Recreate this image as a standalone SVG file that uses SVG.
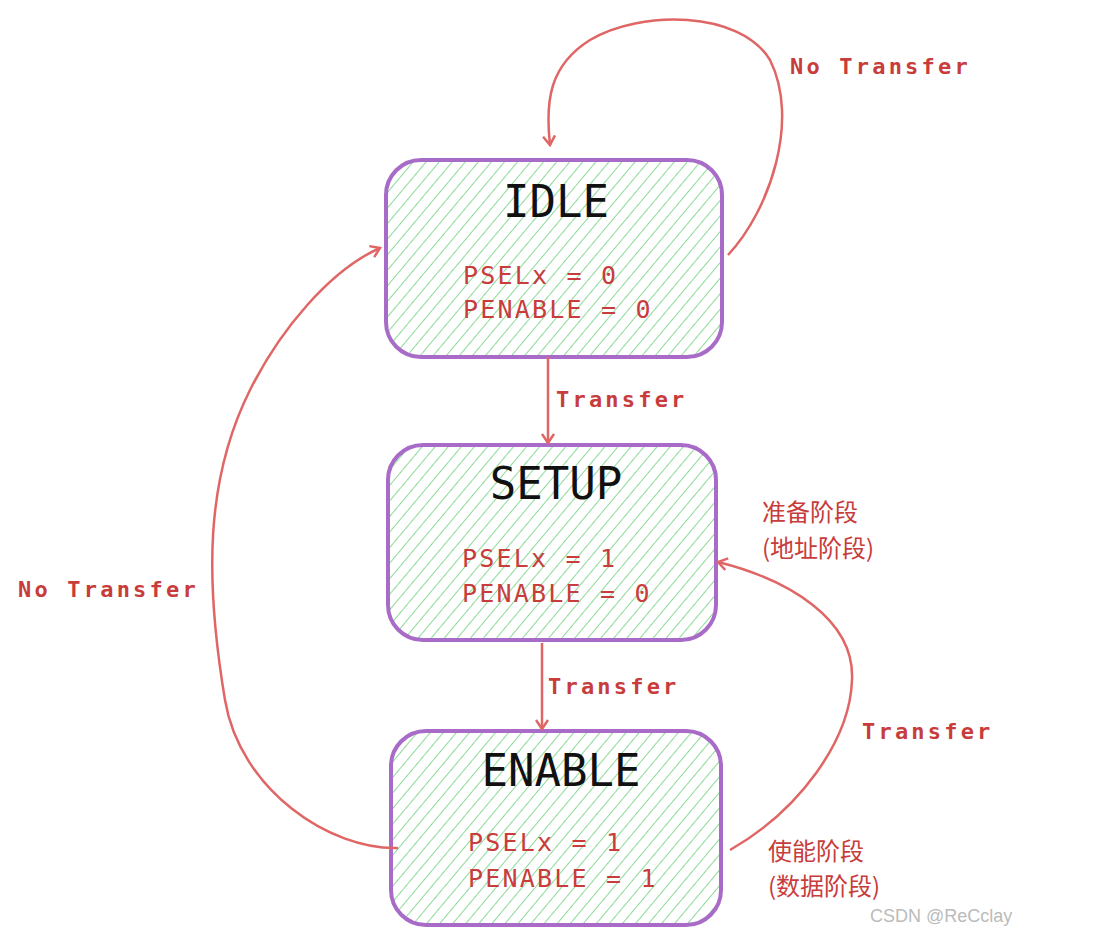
<svg xmlns="http://www.w3.org/2000/svg" width="1093" height="939" viewBox="0 0 1093 939">
<defs>
<pattern id="h" width="10" height="10" patternUnits="userSpaceOnUse" patternTransform="rotate(40)">
<line x1="0" y1="0" x2="0" y2="10" stroke="#7fd68a" stroke-width="1.8"/>
</pattern>
<marker id="a" markerWidth="14" markerHeight="14" refX="10" refY="7" orient="auto" markerUnits="userSpaceOnUse">
<path d="M1,1 L10,7 L1,13" fill="none" stroke="#e06666" stroke-width="2.5"/>
</marker>
<style>
.box{fill:url(#h);stroke:#a86cc8;stroke-width:4}
.t{font-family:"DejaVu Sans Mono",monospace;font-size:44px;fill:#111;text-anchor:middle}
.l{font-family:"DejaVu Sans Mono","Liberation Mono",monospace;font-size:25px;fill:#c83c3c;letter-spacing:2.2px}
.e{font-family:"DejaVu Sans Mono","Liberation Mono",monospace;font-size:22px;fill:#c83c3c;font-weight:bold;letter-spacing:3.2px}
.c{font-family:"Noto Sans CJK SC",sans-serif;font-size:24px;fill:#c83c3c}
.k{fill:none;stroke:#e06666;stroke-width:2.5;marker-end:url(#a)}
</style>
</defs>
<rect width="1093" height="939" fill="#fff"/>
<g id="idle"><rect class="box" x="386" y="160" width="336" height="197" rx="35"/>
<text class="t" x="556" y="217">IDLE</text>
<text class="l" x="463" y="284">PSELx = 0</text><text class="l" x="463" y="318">PENABLE = 0</text></g>
<g id="setup"><rect class="box" x="388" y="445" width="328" height="195" rx="35"/>
<text class="t" x="556" y="499">SETUP</text>
<text class="l" x="462" y="567">PSELx = 1</text><text class="l" x="462" y="602">PENABLE = 0</text></g>
<g id="enable"><rect class="box" x="391" y="731" width="330" height="194" rx="35"/>
<text class="t" x="561" y="786">ENABLE</text>
<text class="l" x="468" y="851">PSELx = 1</text><text class="l" x="468" y="887">PENABLE = 1</text></g>
<g id="connectors">
<path class="k" d="M728,255 C770,210 800,120 770,60 C740,10 640,10 590,40 C550,65 545,100 550,145"/>
<path class="k" d="M548,357 L548,443"/>
<path class="k" d="M542,643 L542,729"/>
<path class="k" d="M398,848 C330,850 240,790 225,700 C205,580 205,480 250,390 C280,330 330,270 380,248"/>
<path class="k" d="M730,850 C800,810 850,740 852,680 C855,620 790,580 718,562"/>
</g>
<g id="labels">
<text class="e" x="790" y="74">No Transfer</text>
<text class="e" x="556" y="407">Transfer</text>
<text class="e" x="548" y="694">Transfer</text>
<text class="e" x="18" y="597">No Transfer</text>
<text class="e" x="862" y="739">Transfer</text>
<text class="c" x="762" y="521">准备阶段</text><text class="c" x="762" y="557">(地址阶段)</text>
<text class="c" x="768" y="860">使能阶段</text><text class="c" x="768" y="895">(数据阶段)</text>
<text x="870" y="922" font-family="Liberation Sans,sans-serif" font-size="18" fill="#bbb">CSDN @ReCclay</text>
</g>
</svg>
